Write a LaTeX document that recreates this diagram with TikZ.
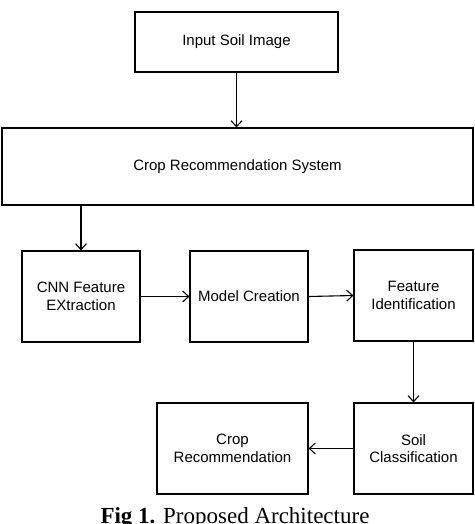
\documentclass[tikz,border=0pt]{standalone}
\usepackage{fontspec}
\setmainfont{Liberation Sans}
\newfontfamily\capfont{Liberation Serif}
\usetikzlibrary{arrows.meta, positioning}

\begin{document}
\begin{tikzpicture}[x=1pt, y=-1pt,
  block/.style={draw, line width=1.1pt, align=center, inner sep=0pt,
    font=\fontsize{15}{17.5}\selectfont},
  flow/.style={-{Straight Barb[length=6pt, width=11pt]}, line width=1.1pt}]
\useasboundingbox (0,0) rectangle (474,524);
% boxes
\node[block, minimum width=203pt, minimum height=60pt] (inp) at (236.5,42) {Input Soil Image};
\node[block, minimum width=471pt, minimum height=77pt] (sys) at (237.5,166.5) {Crop Recommendation System};
\node[block, minimum width=118pt, minimum height=91pt] (cnn) at (81,296.5) {CNN Feature\\EXtraction};
\node[block, minimum width=118pt, minimum height=91pt] (model) at (249,296.5) {Model Creation};
\node[block, minimum width=119pt, minimum height=91pt] (feat) at (413.5,295.5) {Feature\\Identification};
\node[block, minimum width=119pt, minimum height=91pt] (soil) at (413.5,448.5) {Soil\\Classification};
\node[block, minimum width=151pt, minimum height=91pt] (crop) at (232.5,448.5) {Crop\\Recommendation};
% arrows
\draw[flow] (inp.south) -- (inp.south |- sys.north);
\draw[flow] (cnn.north |- sys.south) -- (cnn.north);
\draw[flow] (cnn.east) -- (model.west);
\draw[flow] (model.east) -- (feat.west);
\draw[flow] (feat.south) -- (soil.north);
\draw[flow] (soil.west) -- (crop.east);
% caption
\node[anchor=base, inner sep=0pt, font=\capfont\fontsize{23}{26}\selectfont] (cap) at (235,523)
  {\textbf{Fig 1.} Proposed Architecture};
\end{tikzpicture}
\end{document}
